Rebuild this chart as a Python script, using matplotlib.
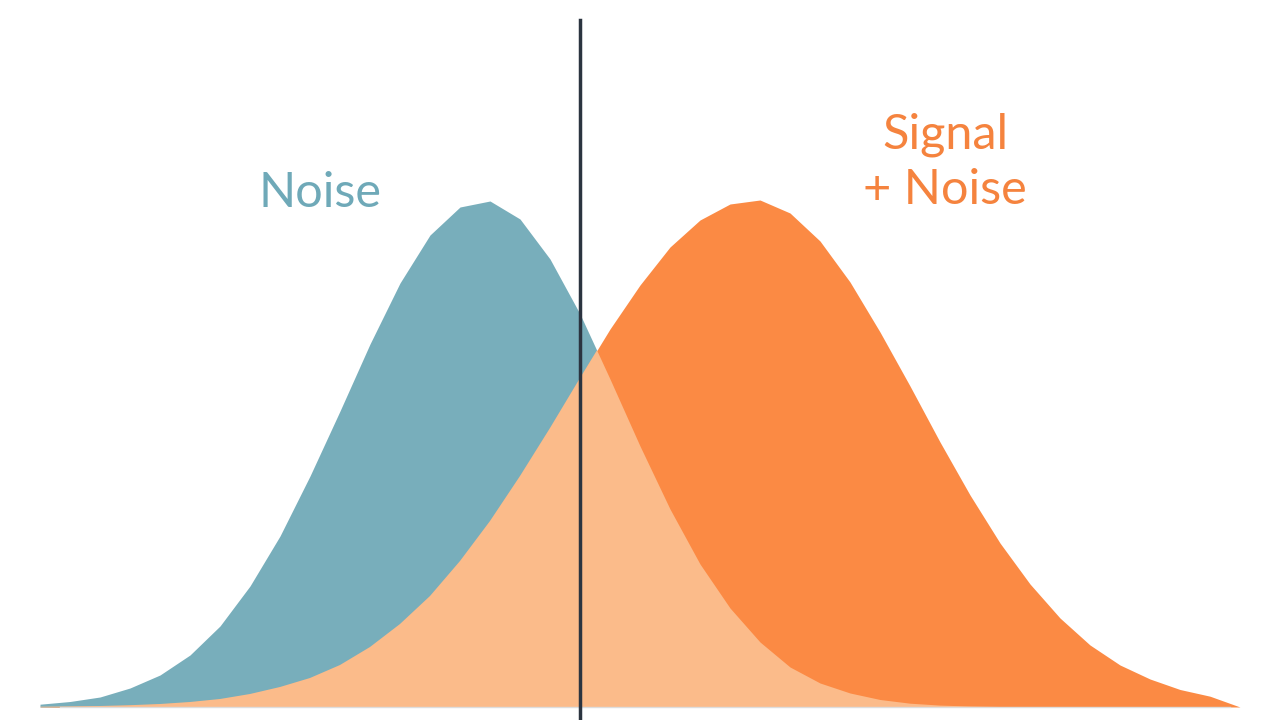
import matplotlib.pyplot as plt
import numpy as np

# positions along the decision axis (pixel-like units) and curve heights
x = np.arange(40, 1241, 30)
noise = [2.8, 5.5, 10, 19, 32, 52, 81, 121, 171, 231, 296, 363, 424, 472, 500, 506,
         488, 448, 393, 328, 261, 198, 143, 99, 65, 40, 24, 14, 7.5, 3.8, 1.9,
         1, 0.5, 0, 0, 0, 0, 0, 0, 0, 0]
signal = [0.3, 0.6, 1, 1.8, 3, 5, 8, 13, 20, 29, 42, 60, 83, 111, 146, 186, 231, 279,
          329, 378, 422, 460, 487, 503, 507, 494, 466, 425, 375, 321, 265, 212, 164,
          123, 89, 62, 42, 28, 17.5, 10.8, 0]
criterion = 580

fig = plt.figure(figsize=(12.8, 7.2), dpi=100)
ax = fig.add_axes([0, 0, 1, 1])
ax.set_xlim(0, 1280)
ax.set_ylim(-13, 707)
ax.axis('off')

ax.fill_between(x, 0, noise, color='#78aebb', lw=0)
sig = ax.fill_between(x, 0, signal, color='#fb8a44', lw=0)
# overlap: the noise area clipped to the signal area
peach = ax.fill_between(x, 0, noise, color='#fbbb8a', lw=0)
peach.set_clip_path(sig.get_paths()[0], ax.transData)

ax.plot([60, 1230], [0, 0], color='#dddddd', lw=1)
ax.plot([criterion, criterion], [-13, 687], color='#2b3440', lw=2.5)

ax.text(320, 514, 'Noise', color='#6fa9b8', fontsize=35, family='Lato',
        ha='center', va='center')
ax.text(945, 545, 'Signal\n+ Noise', color='#f5833e', fontsize=35, family='Lato',
        ha='center', va='center', linespacing=1.3)

fig.savefig('out.png')
